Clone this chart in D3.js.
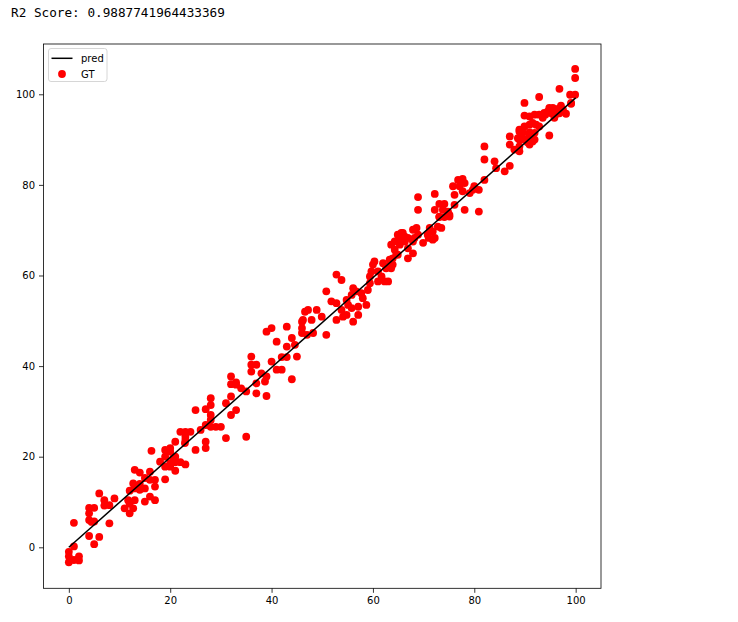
<!DOCTYPE html>
<html>
<head>
<meta charset="utf-8">
<script src="https://cdn.jsdelivr.net/npm/d3@7"></script>
<style>
  body { margin: 0; background: #fff; }
  svg { display: block; }
</style>
</head>
<body>
<svg id="chart" width="738" height="622"></svg>
<script>
const title = 'R2 Score: 0.9887741964433369'

const gtX = [
  0, 0, 0, 1, 2, 2, 1, 1, 4, 5, 6, 4, 4, 4, 4.5, 5, 5, 6, 7, 7, 8, 8, 9,
  11, 12, 12, 12, 13, 13, 13, 14, 14, 14, 15, 15, 16, 16, 17, 17, 16.3, 18, 19,
  19, 19, 19, 20, 20, 21, 21, 21, 21, 22, 23, 23, 22, 23, 24, 23, 25, 25,
  26, 27, 27, 27, 28, 29, 30, 27, 28, 28, 28, 28, 31, 31, 32, 32, 33, 33, 32, 32,
  33, 34, 35, 35, 36, 36, 37, 36, 37, 38, 39, 38.7, 37, 39, 39, 40, 41, 40, 41, 42,
  42, 43, 43, 43, 44, 44, 45, 46, 46, 47, 44.6, 46, 46.2, 46.6, 47.2, 47.9, 48.2,
  48.9, 49.9, 50.8, 50.8, 51.8, 52.8, 52.8, 53.8, 54.1, 54.8, 52.8, 53.8, 54.8, 55.1,
  55.8, 56.1, 55.8, 56.1, 56.7, 57.1, 57.1, 57.7, 58, 58.7, 59, 59.4, 59.4, 59.7, 60,
  60.3, 61, 61, 61.7, 62, 62.3, 63, 62.6, 63.3, 63.6, 63.9, 64.6, 63.6, 64.3, 64.9,
  65.9, 65.3, 66.3, 66.9, 66.9, 67.9, 68.2, 68.6, 69.9, 70.8, 71.2, 72.2, 72.8, 73.5,
  71.8, 71.8, 72.2, 73.1, 74.1, 73.8, 74.8, 75.1, 74.1, 73.1, 76.1, 72.2, 75.8, 76.1,
  76.8, 77.1, 77.7, 77.7, 78.1, 78.1, 79.1, 79.7, 80, 80.9, 80.9, 82, 82, 82, 84, 84.3,
  86, 87, 87, 87, 87.9, 88.9, 88.9, 88.9, 89.9, 90.9, 90.9, 91.9, 91.9, 94.8, 99.9,
  99.9, 96.8, 98.9, 99.9, 99.1, 98.1, 92.8, 89.9, 94.8, 95.5, 96.5, 97.5, 94.5, 93.8,
  94, 95.2, 96, 96.8, 89.9, 90.9, 91.9, 92.8, 95.8, 92.8, 90.9, 89.9, 88.9, 89.2,
  92.2, 90.9, 91.5, 90.2, 89.2, 88.9, 93.5,
  68.9, 68.9, 71, 67.9, 68.9, 65.6, 66.3, 65.3, 67.9, 66.9, 64.3, 63, 63.9, 64.9, 73.1, 75.1,
  97.1, 99.1, 91.5, 89.6, 91.5, 90.5, 88.6,
  12.7, 11.7, 15, 12.7, 16, 17, 20.6, 20, 20, 22.9
]
const gtY = [
  -1, -2, -3.3, -2.8, -2, -2.9, 0.2, 5.4, 2.5, 0.7, 2.3, 8.7, 7.5, 6, 5.6, 8.7, 5.7, 11.9, 10.4, 9.2, 9.3, 5.3, 10.8,
  8.6, 9.6, 7.5, 12.5, 10.4, 13, 17.1, 16.5, 12.7, 14, 10.1, 15.3, 11.2, 16.7, 14.9, 13.4, 21.3, 18.9, 17.8,
  21.5, 20, 15, 21.9, 18.6, 23.3, 20, 18.8, 16.9, 18.8, 18.3, 23.7, 25.5, 25.5, 25.5, 24.4, 21.5, 30.3,
  25.9, 27, 21.9, 23.3, 26.6, 26.6, 26.6, 30.5, 31.4, 32.9, 29.2, 28.1, 24.1, 31.8, 33.3, 29.2, 30.3, 35.9, 36, 37.7,
  36.4, 35.1, 34.4, 24.4, 42.1, 40.3, 40.3, 38.8, 36.2, 38.4, 37.7, 36.6, 34, 33.4, 47.6, 48.4, 45.4, 41, 39.2, 39.2,
  42, 42, 48.7, 44.3, 46.2, 37.1, 42.1, 49.8, 48.4, 46.9, 44.7, 47.3, 50.2, 52, 52.4, 50.2, 47.3,
  52.4, 50.9, 46.9, 56.5, 54.3, 53.9, 50.2, 52.4, 50.9, 51.3, 60.2, 59, 54.6, 53.5,
  52.8, 49.8, 55.7, 57.2, 56.5, 53.1, 51.3, 56.1, 55, 53.5, 56.8, 58.3, 59.8, 60.9, 62.4,
  63.1, 60.9, 58.7, 59.8, 62.7, 58.7, 58.7, 61.6, 63.5, 61.6, 63.8, 64.6, 66.8, 67.5, 69,
  69.4, 66.8, 67.5, 68.3, 63.8, 64.9, 68.3, 70.5, 67.2, 69, 70.5, 68.3, 70.8, 70.5,
  69.7, 67.9, 74.5, 75.8, 75.8, 74.5, 74.1, 73, 72.9, 72.9, 75.6, 78, 79.7, 77.8,
  81.1, 79.7, 81.3, 78.6, 80.4, 74.5, 78.2, 78.9, 79.7, 78.9, 74.1, 81.1, 85.6, 88.5, 85.2, 83.7,
  83, 84.2, 88.9, 90.7, 87.8, 87.4, 91.8, 90, 90, 88.9, 91.1, 90, 91.5, 90.9, 105.6,
  103.6, 101.2, 99.9, 99.9, 98.1, 95.7, 99.4, 98.1, 97, 97, 96.8, 96.6, 96.2, 95.9,
  95.5, 95.8, 95.5, 95.8, 95.3, 95.1, 95.5, 95.5, 94.8, 92.9, 93.3, 92.9, 92.2, 91.6,
  93.3, 91.6, 90, 90, 90, 88.5, 94.8,
  77.3, 74.5, 68.3, 70.1, 69, 69.4, 68.6, 67.9, 67.5, 66, 65.7, 62, 62.4, 64.6, 73, 73.4,
  97.5, 97.9, 93.7, 91.5, 89.6, 89.4, 90.3,
  8.6, 10.4, 13, 14.1, 14.9, 10.4, 19.7, 17.8, 21.1, 23
]

// regression line
const predX = [0, 100]
const predY = [0, 99.2]

const xTicks = [0, 20, 40, 60, 80, 100]
const yTicks = [0, 20, 40, 60, 80, 100]

const svg = d3.select('#chart')

const plotLeft = 43.5, plotRight = 601, plotTop = 44, plotBottom = 588.3

const x = d3.scaleLinear().domain([-5, 105]).range([plotLeft, plotRight])
const y = d3.scaleLinear().domain([-9.05, 111.1]).range([plotBottom, plotTop])

svg.append('text')
  .attr('x', 11)
  .attr('y', 17)
  .attr('font-family', 'DejaVu Sans Mono, monospace')
  .attr('font-size', 12.7)
  .attr('fill', '#000')
  .text(title)

const points = gtX.map((v, i) => ({ x: v, y: gtY[i] }))

svg.append('g')
  .selectAll('circle')
  .data(points)
  .enter()
  .append('circle')
  .attr('cx', d => x(d.x))
  .attr('cy', d => y(d.y))
  .attr('r', 3.9)
  .attr('fill', '#ff0000')

const line = d3.line()
  .x(d => x(d[0]))
  .y(d => y(d[1]))

svg.append('path')
  .datum(predX.map((v, i) => [v, predY[i]]))
  .attr('d', line)
  .attr('fill', 'none')
  .attr('stroke', '#000')
  .attr('stroke-width', 1.5)

// axes
const xAxis = svg.append('g')
  .attr('transform', `translate(0,${plotBottom})`)
  .call(d3.axisBottom(x).tickValues(xTicks).tickSize(4.5).tickPadding(4))
const yAxis = svg.append('g')
  .attr('transform', `translate(${plotLeft},0)`)
  .call(d3.axisLeft(y).tickValues(yTicks).tickSize(4.5).tickPadding(4))

;[xAxis, yAxis].forEach(a => {
  a.select('.domain').remove()
  a.selectAll('line').attr('stroke', '#000').attr('stroke-width', 0.8)
  a.selectAll('text')
    .attr('font-family', 'DejaVu Sans, sans-serif')
    .attr('font-size', 10)
    .attr('fill', '#000')
})

svg.append('rect')
  .attr('x', plotLeft)
  .attr('y', plotTop)
  .attr('width', plotRight - plotLeft)
  .attr('height', plotBottom - plotTop)
  .attr('fill', 'none')
  .attr('stroke', '#000')
  .attr('stroke-width', 0.8)

// legend
const lg = svg.append('g')
lg.append('rect')
  .attr('x', 48.5).attr('y', 48.5)
  .attr('width', 58.5).attr('height', 33)
  .attr('rx', 2.5)
  .attr('fill', '#fff')
  .attr('fill-opacity', 0.8)
  .attr('stroke', '#ccc')
  .attr('stroke-width', 0.8)
lg.append('line')
  .attr('x1', 51.5).attr('x2', 72.5)
  .attr('y1', 58.3).attr('y2', 58.3)
  .attr('stroke', '#000').attr('stroke-width', 1.5)
lg.append('circle')
  .attr('cx', 62).attr('cy', 74)
  .attr('r', 3.9).attr('fill', '#ff0000')
lg.append('text')
  .attr('x', 81).attr('y', 62)
  .attr('font-family', 'DejaVu Sans, sans-serif')
  .attr('font-size', 10)
  .text('pred')
lg.append('text')
  .attr('x', 81).attr('y', 77.5)
  .attr('font-family', 'DejaVu Sans, sans-serif')
  .attr('font-size', 10)
  .text('GT')
</script>
</body>
</html>
